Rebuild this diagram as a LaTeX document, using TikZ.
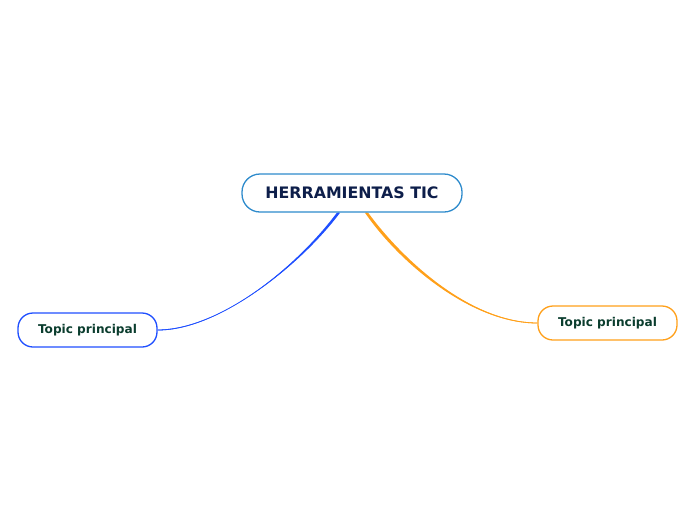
\documentclass[tikz,border=0pt]{standalone}
\usepackage{fontspec}
\setmainfont{DejaVu Sans}
\usetikzlibrary{calc,positioning,backgrounds}

\definecolor{rootline}{HTML}{2E8BCC}
\definecolor{roottext}{HTML}{0D1E4A}
\definecolor{leftline}{HTML}{1F4FFF}
\definecolor{rightline}{HTML}{FFA01A}
\definecolor{topictext}{HTML}{0B3D2E}

\tikzset{
  rootbox/.style={draw=rootline, line width=1.3pt, rounded corners=18pt, fill=white,
    minimum width=220pt, minimum height=38pt, inner sep=0pt,
    font=\fontsize{15.8}{17}\selectfont\bfseries, text=roottext},
  topicbox/.style={draw=#1, line width=1.3pt, rounded corners=15pt, fill=white,
    minimum width=139pt, minimum height=34pt, inner sep=0pt,
    font=\fontsize{12.1}{14}\selectfont\bfseries, text=topictext},
}

\begin{document}
\begin{tikzpicture}[x=1pt,y=-1pt]
  \useasboundingbox (0,0) rectangle (696,520);
  \node[rootbox] (root) at (352,193) {HERRAMIENTAS TIC};
  \node[topicbox=leftline] (left) at (87.5,330) {Topic principal};
  \node[topicbox=rightline] (right) at (607.5,323) {Topic principal};
  % connectors under the nodes
  \begin{scope}[on background layer]
    \coordinate (bl) at ($(root.south)+(-13.5,0)$);
    \coordinate (or) at ($(root.south)+(14.5,0)$);
    \fill[leftline] ($(bl)+(-1.6,0)$) .. controls (298,265) and (220,330.4) .. ($(left.east)+(0,0.4)$)
        -- ($(left.east)+(0,-0.4)$) .. controls (220,329.6) and (301,265) .. ($(bl)+(1.6,0)$) -- cycle;
    \draw[leftline, line width=0.8pt] (bl) .. controls (299.5,265) and (220,330) .. (left.east);
    \fill[rightline] ($(or)+(-1.6,0)$) .. controls (398,261) and (470,323.4) .. ($(right.west)+(0,0.4)$)
        -- ($(right.west)+(0,-0.4)$) .. controls (470,322.6) and (402,259) .. ($(or)+(1.6,0)$) -- cycle;
    \draw[rightline, line width=0.8pt] (or) .. controls (400,260) and (470,323) .. (right.west);
  \end{scope}
\end{tikzpicture}
\end{document}
